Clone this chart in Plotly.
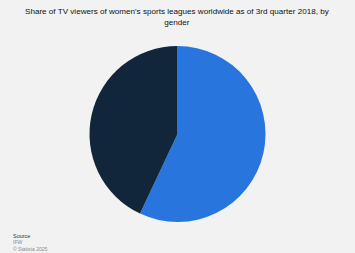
import plotly.graph_objects as go

labels = ["Male", "Female"]
values = [57, 43]
colors = ["#2876dd", "#11263b"]

fig = go.Figure(go.Pie(
    labels=labels, values=values, sort=False, direction="clockwise", rotation=0,
    marker=dict(colors=colors, line=dict(width=0)),
    textinfo="none", hoverinfo="label+percent", showlegend=False,
))
fig.update_layout(
    width=355, height=253,
    paper_bgcolor="#f2f2f2", plot_bgcolor="#f2f2f2",
    margin=dict(l=0, r=0, t=46, b=31),
    font=dict(family="Liberation Sans, Arial, sans-serif"),
    annotations=[
        dict(text="Share of TV viewers of women's sports leagues worldwide as of 3rd quarter 2018, by<br>gender",
             x=0.5, y=1, xref="paper", yref="paper", yanchor="top", xanchor="center",
             yshift=41, showarrow=False, font=dict(size=8.1, color="#111111"), align="center"),
        dict(text="Source", x=0, y=0, xref="paper", yref="paper", xanchor="left", yanchor="top",
             xshift=11, yshift=-9, showarrow=False, font=dict(size=5.5, color="#333333"), align="left"),
        dict(text="IFW<br>© Statista 2025", x=0, y=0, xref="paper", yref="paper", xanchor="left", yanchor="top",
             xshift=11, yshift=-15, showarrow=False, font=dict(size=5, color="#888888"), align="left"),
    ],
)
fig.write_html("out.html")
